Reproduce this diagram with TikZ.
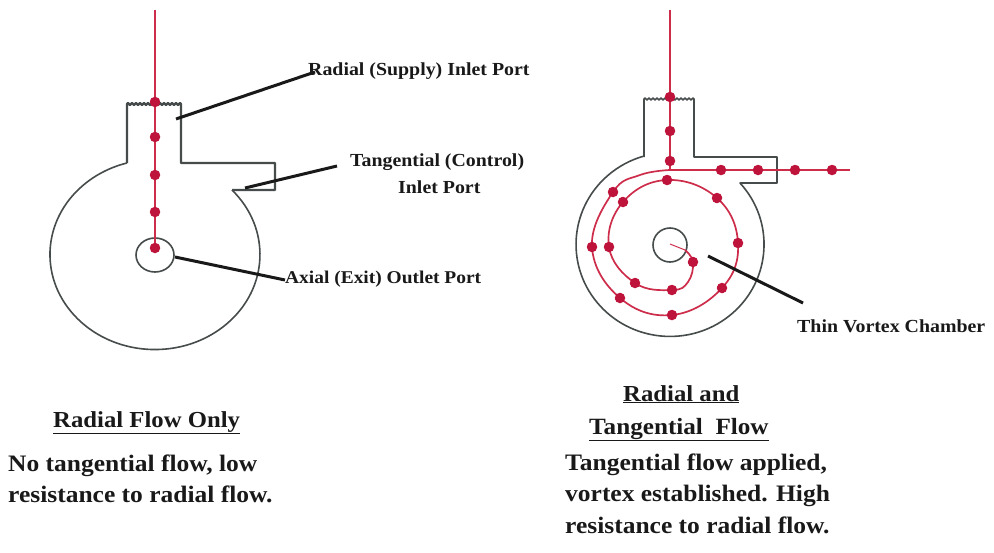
\documentclass[tikz,border=0pt]{standalone}
\usepackage{fontspec}
\setmainfont{Liberation Serif}[FakeStretch=1.08]
\usetikzlibrary{decorations.pathmorphing,shapes.geometric}
\definecolor{wall}{RGB}{70,75,75}
\definecolor{flow}{RGB}{205,45,75}
\definecolor{flowdot}{RGB}{190,20,60}
\definecolor{ink}{RGB}{25,25,25}
\tikzset{
  x=1pt,y=-1pt,
  wallline/.style={draw=wall,line width=1.6pt,line join=round},
  portline/.style={draw=wall,line width=2.4pt,line join=round},
  flowline/.style={draw=flow,line width=1.7pt},
  leader/.style={draw=ink,line width=3pt},
  mark dot/.style={circle,fill=flowdot,inner sep=0pt,minimum size=10.5pt,draw=none},
  mark tip/.style={regular polygon,regular polygon sides=3,fill=flowdot,inner sep=0pt,minimum size=11.5pt,draw=none,rounded corners=1pt,shape border rotate=#1},
  lab/.style={anchor=base west,inner sep=0pt,text=ink,font=\bfseries\fontsize{18.4}{20}\selectfont},
  body/.style={anchor=base west,inner sep=0pt,text=ink,font=\bfseries\fontsize{23.6}{26}\selectfont},
  head/.style={anchor=base west,inner sep=0pt,text=ink,font=\bfseries\fontsize{22.9}{26}\selectfont},
  zig/.style={decorate,decoration={zigzag,amplitude=1pt,segment length=4pt}},
}
\begin{document}
\begin{tikzpicture}
\useasboundingbox (0,0) rectangle (994,552);
% left device
\draw[portline] (127,163) -- (127,104) decorate[zig]{-- (181,104)} -- (181,163) -- (275,163) -- (275,190) -- (232,190);
\draw[wallline] (232,190) arc[start angle=42.8,end angle=-254.5,x radius=105,y radius=-95];
\draw[wallline] (155,255) ellipse[x radius=19,y radius=17];
\coordinate (LT) at (155,10);
\coordinate (L5) at (155,248);
\draw[flowline] (LT) -- (L5);
\foreach \n/\p in {a/{155,102},b/{155,137},c/{155,175},d/{155,212},e/{155,248}}{
  \node[mark dot] (L\n) at (\p) {};
  \node[mark tip=180] (LT\n) at (\p) {};
}
% right device
\draw[wallline] (644,157) -- (644,99) decorate[zig]{-- (694,99)} -- (694,157) -- (777,157) -- (777,183) -- (740,183)
  arc[start angle=41.9,end angle=-254,x radius=94,y radius=-92];
\draw[wallline] (670,245) circle[radius=17];
\coordinate (RT) at (670,10);
\coordinate (RE) at (850,170);
\coordinate (RJ) at (670,170);
\coordinate (RC) at (670,244);
\draw[flowline] (RT) -- (RJ);
\draw[flowline] (RE) -- (RJ);
\draw[flowline] plot[smooth,tension=0.7] coordinates {(670,170) (640,175) (613,192) (592,247) (620,298) (672,315) (722,288) (738,243) (717,198) (667,180) (623,202) (609,247) (635,283) (672,290) (688,282) (693,262) (685,250)};
\draw[flowline,line width=1pt] (685,250) -- (RC);
\foreach \n/\p/\r in {a/{670,97}/180,b/{670,131}/180,c/{670,161}/180,d/{721,170}/90,e/{758,170}/90,f/{795,170}/90,g/{832,170}/90,
  h/{613,192}/125,i/{592,247}/180,j/{620,298}/230,k/{672,315}/270,l/{722,288}/315,m/{738,243}/0,n/{717,198}/45,o/{667,180}/90,p/{623,202}/135,q/{609,247}/180,r/{635,283}/230,s/{672,290}/270,t/{693,262}/350}{
  \node[mark dot] (R\n) at (\p) {};
  \node[mark tip=\r] (RT\n) at (\p) {};
}
% labels
\node[lab] (t1) at (308,75) {Radial (Supply) Inlet Port};
\node[lab] (t2) at (350,166) {Tangential (Control)};
\node[lab] (t3) at (398,193) {Inlet Port};
\node[lab,font=\bfseries\fontsize{18}{20}\selectfont] (t4) at (285,283) {Axial (Exit) Outlet Port};
\node[lab] (t5) at (797,332) {Thin Vortex Chamber};
\coordinate (a1) at (176,119);
\coordinate (a2) at (245,188);
\coordinate (a3) at (175,257);
\coordinate (a4) at (708,256);
\coordinate (b1) at (315,72);
\coordinate (b2) at (337,166);
\coordinate (b3) at (285,280);
\coordinate (b4) at (803,303);
\draw[leader] (a1) -- (b1);
\draw[leader] (a2) -- (b2);
\draw[leader] (a3) -- (b3);
\draw[leader] (a4) -- (b4);
% captions
\node[head] (c1) at (53,427) {\underline{Radial Flow Only}};
\node[body] (c2) at (8,471) {No tangential flow, low};
\node[body] (c3) at (8,502) {resistance to radial flow.};
\node[head] (c4) at (623,401) {\underline{Radial and}};
\node[head,font=\bfseries\fontsize{23.3}{26}\selectfont] (c5) at (589,434) {\underline{Tangential\ \ Flow}};
\node[body] (c6) at (565,470) {Tangential flow applied,};
\node[body] (c7) at (565,501) {vortex established. High};
\node[body] (c8) at (565,533) {resistance to radial flow.};
\end{tikzpicture}
\end{document}
